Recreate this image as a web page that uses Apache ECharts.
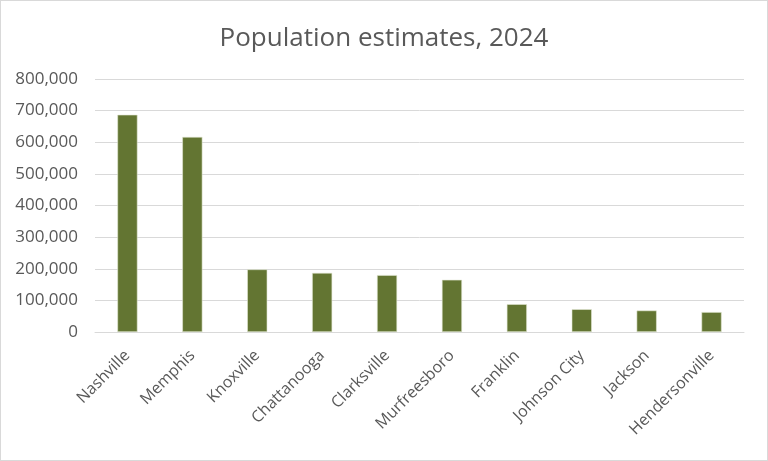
<!DOCTYPE html>
<html>
<head>
<meta charset="utf-8">
<script src="https://cdn.jsdelivr.net/npm/echarts@6/dist/echarts.min.js"></script>
<style>
  html, body { margin: 0; padding: 0; background: #fff; }
  #chart { width: 768px; height: 461px; box-sizing: border-box; border: 1px solid #d9d9d9; }
</style>
</head>
<body>
<div id="chart"></div>
<script>
var cities = ['Nashville', 'Memphis', 'Knoxville', 'Chattanooga', 'Clarksville',
  'Murfreesboro', 'Franklin', 'Johnson City', 'Jackson', 'Hendersonville'];
var population = [687000, 617000, 198000, 187000, 180000, 165000, 88000, 72000, 68000, 63000];

var chart = echarts.init(document.getElementById('chart'));
var labelFont = 'Open Sans';

chart.setOption({
  animation: false,
  title: {
    text: 'Population estimates, 2024',
    left: 'center',
    top: 20,
    textStyle: { fontFamily: labelFont, fontSize: 26, fontWeight: 'normal', color: '#595959' }
  },
  grid: { left: 94, right: 23, top: 78, bottom: 128 },
  xAxis: {
    type: 'category',
    data: cities,
    axisLine: { lineStyle: { color: '#d9d9d9' } },
    axisTick: { show: false },
    axisLabel: { rotate: 45, interval: 0, margin: 21, color: '#595959', fontFamily: labelFont, fontSize: 16 }
  },
  yAxis: {
    type: 'value',
    min: 0,
    max: 800000,
    interval: 100000,
    axisLine: { show: false },
    axisTick: { show: false },
    splitLine: { lineStyle: { color: '#d9d9d9' } },
    axisLabel: {
      margin: 17,
      color: '#595959',
      fontFamily: labelFont,
      fontSize: 17,
      formatter: function (v) { return v.toLocaleString('en-US'); }
    }
  },
  series: [{
    type: 'bar',
    data: population,
    barWidth: '31%',
    itemStyle: { color: '#637532', borderColor: '#e2e8d4', borderWidth: 0.6 }
  }]
});
</script>
</body>
</html>
